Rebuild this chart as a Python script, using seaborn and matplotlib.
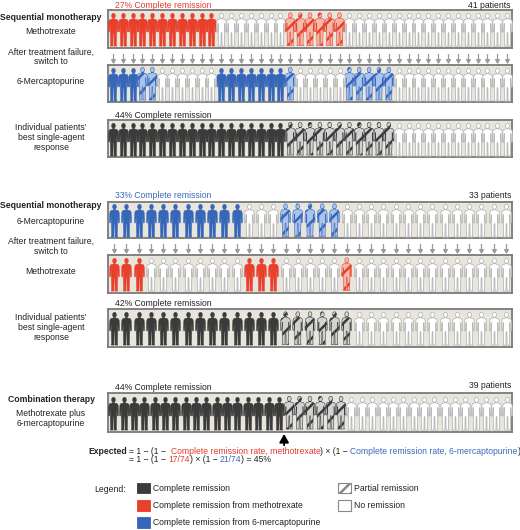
import numpy as np
import pandas as pd
import matplotlib as mpl
mpl.use("Agg")
import matplotlib.pyplot as plt
import seaborn as sns
from matplotlib.path import Path
from matplotlib.markers import MarkerStyle
from matplotlib.transforms import Affine2D
from matplotlib.patches import Rectangle

# ---------------- data ----------------
# each row: run-length list of (response status, number of patients)
p1_patients = 41
p1_mtx = [("cr_mtx", 11), ("none", 7), ("pr_mtx", 6), ("none", 17)]
p1_6mp = [("cr_6mp", 3), ("pr_6mp", 2), ("none", 6), ("cr_6mp", 7),
          ("pr_6mp", 1), ("none", 5), ("pr_6mp", 5), ("none", 12)]
p1_best = [("cr", 18), ("pr", 11), ("none", 12)]
p1_cr_pct = [27, 44]

p2_patients = 33
p2_6mp = [("cr_6mp", 11), ("none", 3), ("pr_6mp", 5), ("none", 14)]
p2_mtx = [("cr_mtx", 3), ("none", 8), ("cr_mtx", 3), ("none", 5),
          ("pr_mtx", 1), ("none", 13)]
p2_best = [("cr", 14), ("pr", 6), ("none", 13)]
p2_cr_pct = [33, 42]

p3_patients = 39
p3_combo = [("cr", 17), ("pr", 6), ("none", 16)]
p3_cr_pct = [44]

expected_mtx_cr = 17
expected_6mp_cr = 21
expected_total = 74
expected_pct = 45

legend_labels = ["Complete remission", "Complete remission from methotrexate",
                 "Complete remission from 6-mercaptopurine",
                 "Partial remission", "No remission"]

# ---------------- style ----------------
W, H = 520, 530
sns.set_theme(style="white")
plt.rcParams["font.family"] = ["Liberation Sans", "DejaVu Sans"]
plt.rcParams["hatch.linewidth"] = 1.8

FS = 6.2
TXT = "#222222"
RED = "#e8402c"
BLUE = "#3566b8"
DARK = "#3b3b3b"
RED_T = "#e23b2e"
BLUE_T = "#3a69b9"
BG = "#e8e6dc"
BORDER = "#7a7a7a"
BOX_L, BOX_R = 108, 512
LBL_X = 51

STYLE = {
    "cr_mtx": dict(face=RED, edge=RED, lw=0.3, hatch=None),
    "cr_6mp": dict(face=BLUE, edge=BLUE, lw=0.3, hatch=None),
    "cr": dict(face=DARK, edge=DARK, lw=0.3, hatch=None),
    "pr_mtx": dict(face="#f6b8aa", edge=RED, lw=0.4, hatch="//"),
    "pr_6mp": dict(face="#a9c3ec", edge=BLUE, lw=0.4, hatch="//"),
    "pr": dict(face="#d2d2d2", edge=DARK, lw=0.4, hatch="//"),
    "none": dict(face="#ffffff", edge="#b8b8b8", lw=0.6, hatch=None),
}

# person silhouette marker
XS = 1.12
half = [(0.045, 0.66), (0.08, 0.63), (0.19, 0.60), (0.235, 0.55), (0.255, 0.45),
        (0.27, 0.05), (0.265, -0.12), (0.235, -0.16), (0.205, -0.12),
        (0.195, 0.05), (0.18, 0.36), (0.175, 0.05), (0.17, -0.3),
        (0.155, -0.90), (0.175, -0.97), (0.17, -1.0), (0.025, -1.0),
        (0.03, -0.90), (0.02, -0.22)]
half = [(x * XS, y) for x, y in half]
body_pts = half + [(0.0, -0.18)] + [(-x, y) for x, y in reversed(half)]
body = Path(body_pts + [body_pts[0]],
            [Path.MOVETO] + [Path.LINETO] * (len(body_pts) - 1) + [Path.CLOSEPOLY])
head = Path.unit_circle().transformed(Affine2D().scale(0.115, 0.155).translate(0, 0.825))
PERSON = MarkerStyle(Path.make_compound_path(body, head))
FIG_S = 570

arrow_path = Path([(0, 1), (0, -0.25), (-0.42, -0.25), (0.42, -0.25), (0, -1), (-0.42, -0.25)],
                  [Path.MOVETO, Path.LINETO, Path.MOVETO, Path.LINETO, Path.LINETO, Path.CLOSEPOLY])
ARROW = MarkerStyle(arrow_path)

fig = plt.figure(figsize=(W / 100, H / 100), dpi=100)
fig.patch.set_facecolor("white")


def frect(x0, y0, x1, y1):
    return [x0 / W, 1 - y1 / H, (x1 - x0) / W, (y1 - y0) / H]


def expand(segs):
    return [s for s, k in segs for _ in range(k)]


def T(x, y, s, ha="center", **kw):
    kw.setdefault("color", TXT)
    kw.setdefault("fontsize", FS)
    return fig.text(x / W, 1 - y / H, s, ha=ha, va="center", **kw)


def draw_row(top, bottom, segs, n):
    ax = fig.add_axes(frect(BOX_L, top, BOX_R, bottom))
    statuses = expand(segs)
    df = pd.DataFrame({"patient": np.arange(len(statuses)), "status": statuses,
                       "row": np.zeros(len(statuses))})
    for status, sub in df.groupby("status", sort=False):
        st = STYLE[status]
        with mpl.rc_context({"hatch.color": st["edge"]}):
            sns.scatterplot(data=sub, x="patient", y="row", marker=PERSON, s=FIG_S,
                            color=st["face"], edgecolor=st["edge"], linewidth=st["lw"],
                            hatch=st["hatch"], legend=False, ax=ax, zorder=3)
    ax.set_xlim(-0.5, n - 0.5)
    ax.set_ylim(-1.12, 1.12)
    ax.set_facecolor(BG)
    for sp in ax.spines.values():
        sp.set_visible(True)
        sp.set_color(BORDER)
        sp.set_linewidth(1.3)
    ax.set_xticks([])
    ax.set_yticks([])
    ax.set_xlabel("")
    ax.set_ylabel("")
    return ax


def draw_arrows(top, bottom, n):
    ax = fig.add_axes(frect(BOX_L, top, BOX_R, bottom))
    df = pd.DataFrame({"patient": np.arange(n), "row": np.zeros(n)})
    sns.scatterplot(data=df, x="patient", y="row", marker=ARROW, s=42,
                    color="#9a9a9a", edgecolor="#9a9a9a", linewidth=0.9,
                    legend=False, ax=ax)
    ax.set_xlim(-0.5, n - 0.5)
    ax.set_ylim(-1.1, 1.1)
    ax.axis("off")


# ---------------- panel 1 ----------------
T(115, 5, f"{p1_cr_pct[0]}% Complete remission", ha="left", color=RED_T)
T(511, 5, f"{p1_patients} patients", ha="right")
draw_row(10, 48, p1_mtx, p1_patients)
draw_arrows(52, 64, p1_patients)
draw_row(65, 102, p1_6mp, p1_patients)
T(115, 115, f"{p1_cr_pct[1]}% Complete remission", ha="left")
draw_row(120, 157, p1_best, p1_patients)
T(LBL_X, 17, "Sequential monotherapy", fontweight="bold")
T(LBL_X, 32, "Methotrexate")
T(LBL_X, 52.5, "After treatment failure,")
T(LBL_X, 62, "switch to")
T(LBL_X, 81, "6-Mercaptopurine")
T(LBL_X, 128, "Individual patients'")
T(LBL_X, 137.5, "best single-agent")
T(LBL_X, 147, "response")

# ---------------- panel 2 ----------------
T(115, 195, f"{p2_cr_pct[0]}% Complete remission", ha="left", color=BLUE_T)
T(511, 195, f"{p2_patients} patients", ha="right")
draw_row(202, 238, p2_6mp, p2_patients)
draw_arrows(242, 254, p2_patients)
draw_row(255, 293, p2_mtx, p2_patients)
T(115, 304, f"{p2_cr_pct[1]}% Complete remission", ha="left")
draw_row(309, 347, p2_best, p2_patients)
T(LBL_X, 206, "Sequential monotherapy", fontweight="bold")
T(LBL_X, 222, "6-Mercaptopurine")
T(LBL_X, 241.5, "After treatment failure,")
T(LBL_X, 251, "switch to")
T(LBL_X, 271, "Methotrexate")
T(LBL_X, 317, "Individual patients'")
T(LBL_X, 327.5, "best single-agent")
T(LBL_X, 338, "response")

# ---------------- panel 3 ----------------
T(115, 387, f"{p3_cr_pct[0]}% Complete remission", ha="left")
T(511, 386, f"{p3_patients} patients", ha="right")
ax3 = draw_row(393, 432, p3_combo, p3_patients)
T(LBL_X, 399, "Combination therapy", fontweight="bold")
T(LBL_X, 414, "Methotrexate plus")
T(LBL_X, 423, "6-mercaptopurine")
arrow_x = sum(k for s, k in p3_combo if s == "cr") - 0.5
ax3.annotate("", xy=(arrow_x, -0.05), xycoords=("data", "axes fraction"),
             xytext=(arrow_x, -0.34), textcoords=("data", "axes fraction"),
             arrowprops=dict(arrowstyle="-|>,head_length=0.5,head_width=0.28",
                             color="black", lw=1.3, shrinkA=0, shrinkB=0,
                             mutation_scale=10),
             annotation_clip=False)

# expected formula
renderer = fig.canvas.get_renderer()
SPACE = 2.3
FS_EQ = 6.2


def seq_text(x0, y, pieces):
    x = x0
    marks = []
    for txt, color, weight, gap in pieces:
        x += gap * SPACE
        marks.append(x)
        t = T(x, y, txt, ha="left", color=color, fontweight=weight, fontsize=FS_EQ)
        x += t.get_window_extent(renderer=renderer).width
    return marks


m = seq_text(88, 451, [
    ("Expected", TXT, "bold", 0),
    ("= 1 \u2212 (1 \u2212", TXT, "normal", 1),
    ("Complete remission rate, methotrexate", RED_T, "normal", 2),
    (") \u00d7 (1 \u2212", TXT, "normal", 0),
    ("Complete remission rate, 6-mercaptopurine", BLUE_T, "normal", 1),
    (")", TXT, "normal", 0),
])
seq_text(m[1], 460, [
    ("= 1 \u2212 (1 \u2212", TXT, "normal", 0),
    (f"{expected_mtx_cr}/{expected_total}", RED_T, "normal", 1),
    (") \u00d7 (1 \u2212", TXT, "normal", 0),
    (f"{expected_6mp_cr}/{expected_total}", BLUE_T, "normal", 1),
    (f") = {expected_pct}%", TXT, "normal", 0),
])

# ---------------- legend ----------------
T(94, 489, "Legend:", ha="left")
handles = [
    Rectangle((0, 0), 1, 1, facecolor=DARK, edgecolor=DARK, lw=0.6),
    Rectangle((0, 0), 1, 1, facecolor=RED, edgecolor=RED, lw=0.6),
    Rectangle((0, 0), 1, 1, facecolor=BLUE, edgecolor=BLUE, lw=0.6),
    Rectangle((0, 0), 1, 1, facecolor="white", edgecolor="#888888", lw=0.8, hatch="///"),
    Rectangle((0, 0), 1, 1, facecolor="white", edgecolor="#888888", lw=0.8),
]
fig.legend(handles, legend_labels, loc="upper left",
           bbox_to_anchor=(137 / W, 1 - 482.5 / H), ncol=2, frameon=False,
           fontsize=FS, handlelength=1.5, handleheight=1.55, handletextpad=0.4,
           labelspacing=0.75, columnspacing=2.0, borderaxespad=0, borderpad=0,
           labelcolor=TXT)

fig.savefig("out.png", dpi=100, facecolor="white")
